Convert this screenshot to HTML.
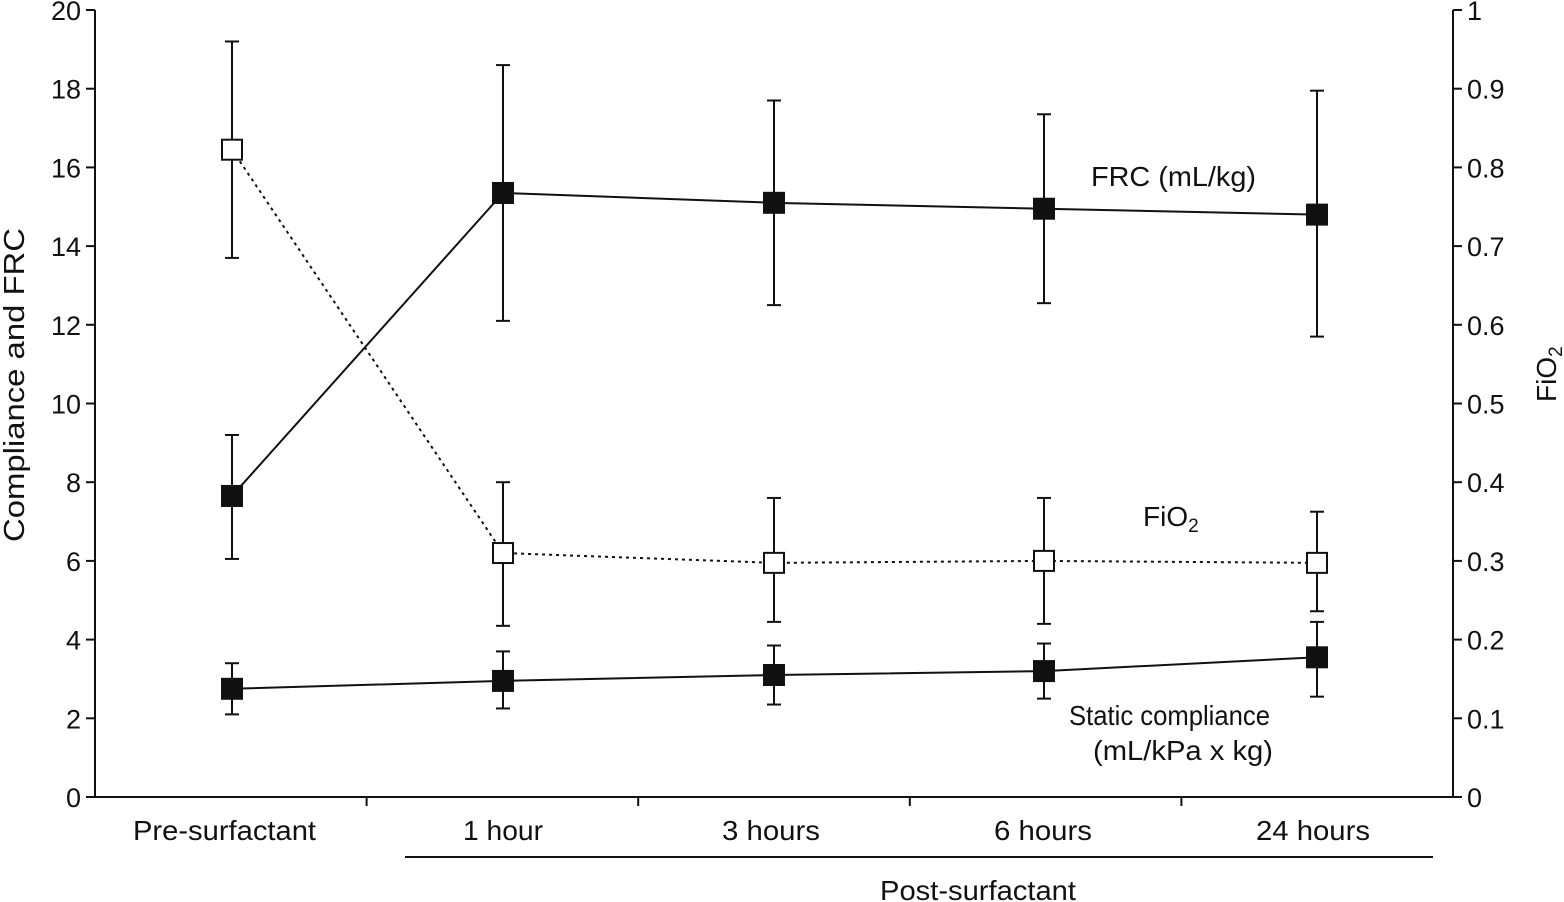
<!DOCTYPE html>
<html><head><style>body{margin:0;background:#fff}svg{display:block}text{font-family:"Liberation Sans",sans-serif;fill:#111}</style></head>
<body>
<svg width="1564" height="902" viewBox="0 0 1564 902" xmlns="http://www.w3.org/2000/svg">
<g stroke="#111" stroke-width="2" fill="none">
<line x1="95" y1="10" x2="95" y2="797"/>
<line x1="1453" y1="10" x2="1453" y2="797"/>
<line x1="86" y1="797" x2="1462" y2="797"/>
<line x1="405" y1="857" x2="1433" y2="857"/>
</g>
<g id="ax" stroke="#111" stroke-width="2"></g>
<g id="labs"></g>
<text x="133" y="840" font-size="28" textLength="183" lengthAdjust="spacingAndGlyphs">Pre-surfactant</text>
<text x="463" y="840" font-size="28" textLength="80" lengthAdjust="spacingAndGlyphs">1 hour</text>
<text x="722" y="840" font-size="28" textLength="98" lengthAdjust="spacingAndGlyphs">3 hours</text>
<text x="994" y="840" font-size="28" textLength="98" lengthAdjust="spacingAndGlyphs">6 hours</text>
<text x="1256" y="840" font-size="28" textLength="114" lengthAdjust="spacingAndGlyphs">24 hours</text>
<text x="880" y="900" font-size="28" textLength="196" lengthAdjust="spacingAndGlyphs">Post-surfactant</text>
<text transform="translate(24,542) rotate(-90)" font-size="29" textLength="314" lengthAdjust="spacingAndGlyphs">Compliance and FRC</text>
<text transform="translate(1556,402) rotate(-90)" font-size="28">FiO<tspan font-size="19" dy="6">2</tspan></text>
<text x="1091" y="186" font-size="28" textLength="165" lengthAdjust="spacingAndGlyphs">FRC (mL/kg)</text>
<text x="1143" y="526" font-size="28">FiO<tspan font-size="19" dy="6">2</tspan></text>
<text x="1069" y="725" font-size="28" textLength="201" lengthAdjust="spacingAndGlyphs">Static compliance</text>
<text x="1093" y="760" font-size="28" textLength="180" lengthAdjust="spacingAndGlyphs">(mL/kPa x kg)</text>
<g id="data"></g>
</svg>
<script>
var ns="http://www.w3.org/2000/svg";
function el(p,t,a,txt){var e=document.createElementNS(ns,t);for(var k in a)e.setAttribute(k,a[k]);if(txt!=null)e.textContent=txt;document.getElementById(p).appendChild(e);return e;}
function Y(v){return 797-39.35*v;}
for(var i=0;i<=10;i++){var y=Y(i*2);
el("ax","line",{x1:86,y1:y,x2:95,y2:y});
el("ax","line",{x1:1453,y1:y,x2:1462,y2:y});
el("labs","text",{x:81,y:y+10,"text-anchor":"end","font-size":27},String(i*2));
el("labs","text",{x:1467,y:y+10,"font-size":27},i==0?"0":i==10?"1":"0."+i);}
for(var i=1;i<=4;i++){var x=95+i*271.6;el("ax","line",{x1:x,y1:797,x2:x,y2:806});}
var X=[232,503,774,1044,1317];
var frc=[[7.65,6.05,9.2],[15.35,12.1,18.6],[15.1,12.5,17.7],[14.95,12.55,17.35],[14.8,11.7,17.95]];
var fio=[[16.45,13.7,19.2],[6.2,4.35,8.0],[5.95,4.45,7.6],[6.0,4.4,7.6],[5.95,4.72,7.25]];
var sc=[[2.75,2.1,3.4],[2.95,2.25,3.7],[3.1,2.35,3.85],[3.2,2.5,3.9],[3.55,2.55,4.45]];
function series(d,filled,dash){
 var pts=d.map(function(p,i){return X[i]+","+Y(p[0]);}).join(" ");
 var a={points:pts,fill:"none",stroke:"#111","stroke-width":2};if(dash)a["stroke-dasharray"]="3,4";
 el("data","polyline",a);
 d.forEach(function(p,i){var x=X[i];
  el("data","line",{x1:x,y1:Y(p[1]),x2:x,y2:Y(p[2]),stroke:"#111","stroke-width":2});
  el("data","line",{x1:x-7,y1:Y(p[1]),x2:x+7,y2:Y(p[1]),stroke:"#111","stroke-width":2});
  el("data","line",{x1:x-7,y1:Y(p[2]),x2:x+7,y2:Y(p[2]),stroke:"#111","stroke-width":2});
 });
 d.forEach(function(p,i){el("data","rect",{x:X[i]-10,y:Y(p[0])-10,width:20,height:20,fill:filled?"#111":"#fff",stroke:"#111","stroke-width":2});});
}
series(fio,false,true);series(frc,true,false);series(sc,true,false);
</script>
</body></html>
